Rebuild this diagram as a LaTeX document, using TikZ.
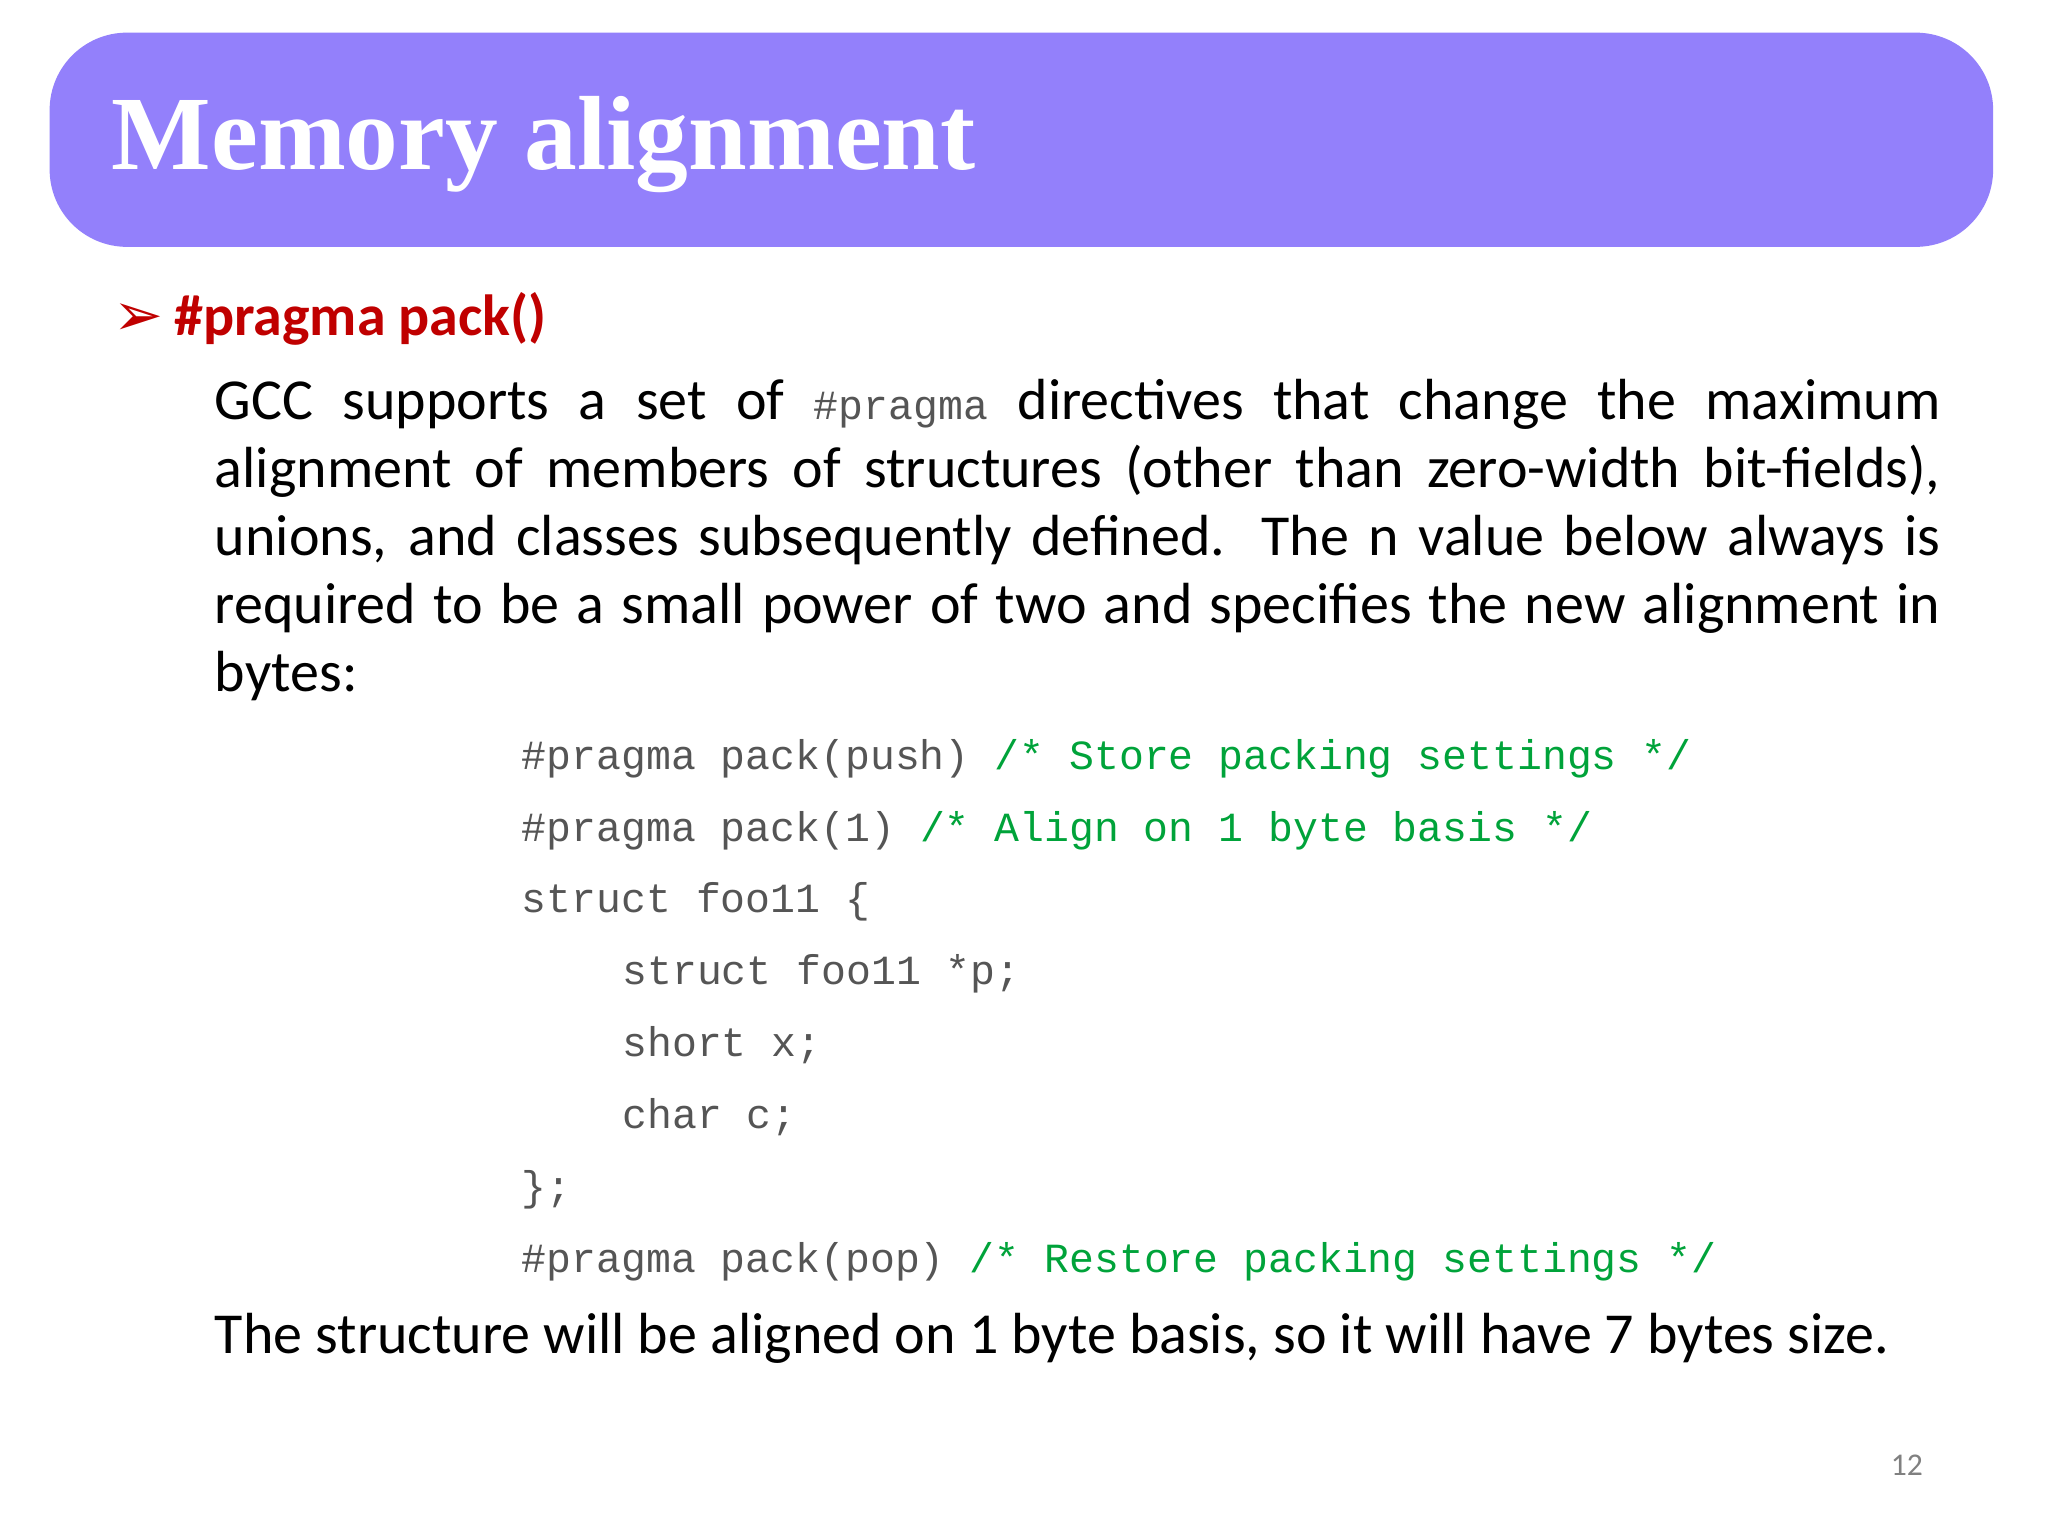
\documentclass[tikz,border=0pt]{standalone}
\usepackage{fontspec}
\setmainfont{Carlito}
\newfontfamily\titlefont{Liberation Serif}
\newfontfamily\codefont{Liberation Mono}
\newfontfamily\symfont{DejaVu Sans}
\definecolor{hdr}{HTML}{9380FB}
\definecolor{codegray}{HTML}{555555}
\definecolor{codegreen}{HTML}{00A33A}
\definecolor{darkred}{HTML}{C00000}
\begin{document}
\begin{tikzpicture}[x=0.013061cm,y=-0.013061cm,
  code/.style={anchor=base west,inner sep=0pt,font=\codefont\fontsize{11.8}{14}\selectfont,text=codegray},
  cm/.style={text=codegreen}]
\useasboundingbox (0,0) rectangle (1568,1176);
\fill[white] (0,0) rectangle (1568,1176);
\fill[hdr,rounded corners=22] (38,25) rectangle (1526,189);
\node[anchor=base west,inner sep=0pt,text=white,font=\titlefont\bfseries\fontsize{30}{36}\selectfont] (title) at (85,130) {Memory alignment};
\node[anchor=base west,inner sep=0pt,text=darkred,font=\symfont\fontsize{17}{19}\selectfont] (bul) at (86,257) {➢};
\node[anchor=base west,inner sep=0pt,text=darkred,font=\bfseries\fontsize{16.5}{20}\selectfont] (sub) at (133,257) {\#pragma pack()};
\node[anchor=north west,inner sep=0pt,text width=491pt,align=justify,font=\fontsize{16.5}{19.3}\selectfont] (para) at (164,290) {\hyphenpenalty=10000 GCC supports a set of {\codefont\color{codegray}\fontsize{11.8}{14}\selectfont \#pragma} directives that change the maximum\linebreak alignment of members of structures (other than zero-width bit-fields),\linebreak unions, and classes subsequently defined. The n value below always is\linebreak required to be a small power of two and specifies the new alignment in\linebreak bytes:};
\node[code] (c1) at (399,589) {\#pragma pack(push) {\color{codegreen}/* Store packing settings */}};
\node[code] (c2) at (399,644) {\#pragma pack(1)  {\color{codegreen}/* Align on 1 byte basis */}};
\node[code] (c3) at (399,699) {struct foo11 \{};
\node[code] (c4) at (476,754) {struct foo11 *p;};
\node[code] (c5) at (476,809) {short x;};
\node[code] (c6) at (476,864) {char c;};
\node[code] (c7) at (399,919) {\};};
\node[code] (c8) at (399,974) {\#pragma pack(pop) {\color{codegreen}/* Restore packing settings */}};
\node[anchor=base west,inner sep=0pt,font=\fontsize{16.5}{19.3}\selectfont] (last) at (164,1036) {The structure will be aligned on 1 byte basis, so it will have 7 bytes size.};
\node[anchor=base,inner sep=0pt,text=gray,font=\fontsize{9}{11}\selectfont] (pg) at (1460,1130) {12};
\end{tikzpicture}
\end{document}
